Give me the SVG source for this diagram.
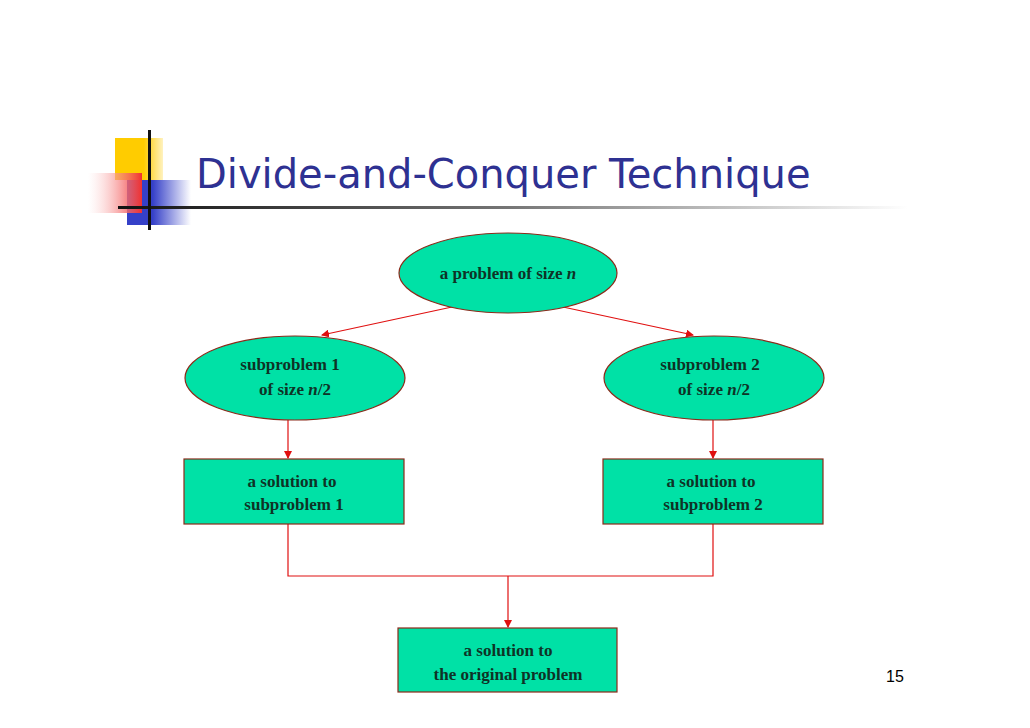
<svg xmlns="http://www.w3.org/2000/svg" width="1030" height="728" viewBox="0 0 1030 728">
<defs>
<style>
.n{fill:#00E1A6;stroke:#8B2A1A;stroke-width:1.2}
.t{font-family:"Liberation Serif",serif;font-weight:bold;font-size:17px;fill:#0E3326;text-anchor:middle}
.c{stroke:#E01010;stroke-width:1.2;fill:none}
</style>
<marker id="a" markerWidth="8" markerHeight="8" refX="7" refY="4" orient="auto" markerUnits="userSpaceOnUse"><path d="M0,0 L8,4 L0,8 z" fill="#E01010"/></marker>
<linearGradient id="hl" x1="0" x2="1"><stop offset="0" stop-color="#111"/><stop offset="0.5" stop-color="#777"/><stop offset="1" stop-color="#fff"/></linearGradient>
<linearGradient id="rd" x1="1" x2="0"><stop offset="0" stop-color="#F03030"/><stop offset="1" stop-color="#fff" stop-opacity="0.3"/></linearGradient>
<linearGradient id="bl" x1="0" x2="1"><stop offset="0.4" stop-color="#3540C8"/><stop offset="1" stop-color="#fff"/></linearGradient>
<linearGradient id="yl" x1="0" x2="1"><stop offset="0.6" stop-color="#FFCC00"/><stop offset="1" stop-color="#FFF2C0"/></linearGradient>
</defs>
<rect width="1030" height="728" fill="#fff"/>
<g id="logo">
<rect x="115" y="138" width="48" height="42" fill="url(#yl)"/>
<rect x="127" y="180" width="64" height="45" fill="url(#bl)"/>
<rect x="88" y="173" width="54" height="40" fill="url(#rd)"/>
<rect x="118" y="206" width="790" height="3" fill="url(#hl)"/>
<rect x="148" y="130" width="3" height="100" fill="#111"/>
</g>
<text x="196" y="188" font-family="'DejaVu Sans',sans-serif" font-size="40" fill="#2E3192">Divide-and-Conquer Technique</text>
<g id="connectors">
<line class="c" x1="452" y1="307" x2="322" y2="335" marker-end="url(#a)"/>
<line class="c" x1="563" y1="307" x2="693" y2="335" marker-end="url(#a)"/>
<line class="c" x1="288" y1="420" x2="288" y2="458" marker-end="url(#a)"/>
<line class="c" x1="713" y1="420" x2="713" y2="458" marker-end="url(#a)"/>
<polyline class="c" points="288,524 288,576 713,576 713,524"/>
<line class="c" x1="508" y1="576" x2="508" y2="627" marker-end="url(#a)"/>
</g>
<g id="root"><ellipse class="n" cx="508" cy="273" rx="109" ry="40"/><text class="t" x="508" y="279">a problem of size <tspan font-style="italic">n</tspan></text></g>
<g id="sub1"><ellipse class="n" cx="295" cy="378" rx="110" ry="42"/><text class="t" x="290" y="370">subproblem 1</text><text class="t" x="295" y="395">of size <tspan font-style="italic">n</tspan>/2</text></g>
<g id="sub2"><ellipse class="n" cx="714" cy="378" rx="110" ry="42"/><text class="t" x="710" y="370">subproblem 2</text><text class="t" x="714" y="395">of size <tspan font-style="italic">n</tspan>/2</text></g>
<g id="sol1"><rect class="n" x="184" y="459" width="220" height="65"/><text class="t" x="292" y="487" font-size="15">a solution to</text><text class="t" x="294" y="510" font-size="15">subproblem 1</text></g>
<g id="sol2"><rect class="n" x="603" y="459" width="220" height="65"/><text class="t" x="711" y="487" font-size="15">a solution to</text><text class="t" x="713" y="510" font-size="15">subproblem 2</text></g>
<g id="final"><rect class="n" x="398" y="628" width="219" height="64"/><text class="t" x="508" y="656" font-size="15">a solution to</text><text class="t" x="508" y="680" font-size="15">the original problem</text></g>
<text x="886" y="682" font-family="'Liberation Sans',sans-serif" font-size="16" fill="#000">15</text>
</svg>
